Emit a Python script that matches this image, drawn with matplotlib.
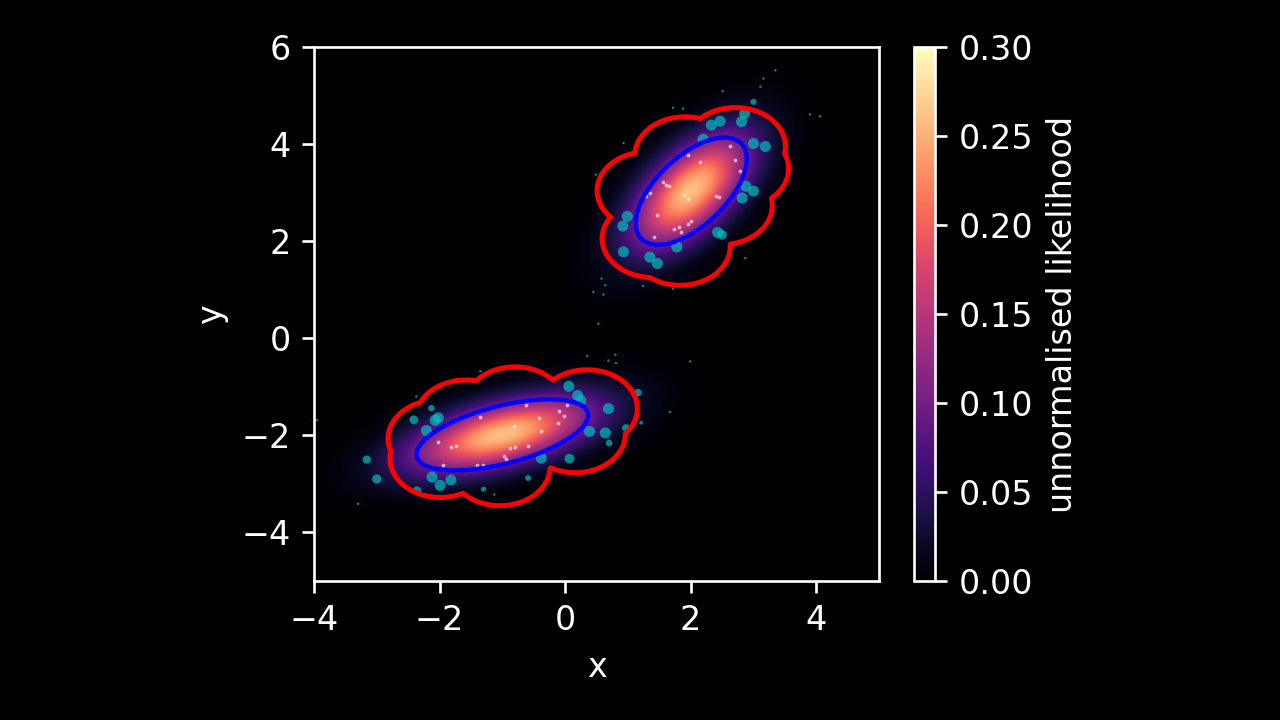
import numpy as np
import matplotlib
matplotlib.use("Agg")
import matplotlib.pyplot as plt

# two gaussian blobs: mean, std, correlation, peak height
mean_x = [-1.0, 2.01]
mean_y = [-1.99, 3.03]
std_x = [0.99, 0.64]
std_y = [0.53, 0.80]
corr = [0.55, 0.60]
peak = [0.26, 0.26]
blue_level = 0.1

# centres of the bumps of the red outline, and their radius
red_x = [2.71, 1.91, 1.31, 2.76, 2.50, 1.83, 1.39,
         -2.02, -1.58, -0.80, 0.35, 0.16, -1.04, -1.99]
red_y = [3.95, 3.76, 3.04, 3.49, 2.73, 1.89, 2.05,
         -2.07, -1.66, -1.39, -1.45, -1.97, -2.65, -2.48]
red_r = 0.8

# samples inside the blue ellipse
white_x = [1.95, 2.15, 2.63, 2.70, 2.78, 1.56, 1.60, 1.66, 1.35, 1.29, 1.89, 1.96,
           2.41, 2.45, 1.47, 2.01, 1.95, 1.74, 1.82, 1.84, 1.91, 1.42, 1.59, 1.80,
           -0.63, -0.10, 0.03, -0.02, -0.11, -1.35, -0.42, -0.38, -0.82, -2.02,
           -1.82, -1.74, -0.88, -0.79, -0.59, -0.97, -0.94, -1.94, -1.41, -1.30]
white_y = [3.77, 3.63, 3.95, 3.68, 3.44, 3.21, 3.15, 3.13, 2.99, 2.92, 2.96, 2.86,
           2.93, 2.90, 2.53, 2.42, 2.36, 2.26, 2.29, 2.19, 2.10, 2.09, 1.97, 2.00,
           -1.37, -1.49, -1.37, -1.60, -1.74, -1.62, -1.65, -1.92, -1.81, -2.13,
           -2.24, -2.21, -2.26, -2.24, -2.23, -2.42, -2.48, -2.62, -2.61, -2.62]

# samples outside the blue ellipse
cyan_x = [2.33, 2.47, 2.81, 3.00, 3.19, 2.20, 2.88, 3.00, 2.82, 0.99, 0.92, 0.93,
          1.35, 1.47, 2.43, 2.50, 1.78, 2.86, 3.00, 2.51, 1.88, 1.72, 0.93, 0.49,
          0.58, 0.64, 0.45, 1.24, 1.72, 2.87, 3.11, 3.16, 3.35, 4.06, 3.90, 0.53,
          0.80, 1.99, 1.67, 0.61,
          0.06, 0.20, 0.25, 0.69, 0.39, 0.64, 0.70, 0.97, 0.07, -0.38, -1.82, -1.99,
          -2.12, -2.41, -2.07, -2.02, -2.21, 1.16, 1.21, -0.59, -1.30, -1.13, -2.36,
          -2.13, -3.00, -1.35, 0.69, 0.81, 0.35, -3.16, -3.30, -3.95, -2.37]
cyan_y = [4.39, 4.47, 4.46, 4.01, 3.95, 4.10, 3.13, 3.03, 2.89, 2.51, 2.31, 1.78,
          1.67, 1.54, 2.18, 2.13, 1.88, 4.63, 4.87, 5.09, 4.73, 4.75, 4.02, 3.37,
          1.23, 1.09, 0.95, 1.08, 1.02, 1.65, 5.18, 5.35, 5.52, 4.57, 4.61, 0.30,
          -0.34, -0.48, -1.52, 0.90,
          -0.99, -1.18, -1.28, -1.45, -1.92, -1.95, -2.16, -1.85, -2.48, -2.47, -2.92, -3.03,
          -2.86, -1.68, -1.69, -1.64, -1.90, -1.12, -1.74, -2.88, -3.11, -3.22, -3.14,
          -1.44, -2.90, -0.68, -0.46, -0.51, -0.37, -2.50, -3.41, -1.69, -1.20]


def density(x, y):
    total = np.zeros_like(np.asarray(x, dtype=float))
    for i in range(len(mean_x)):
        zx = (x - mean_x[i]) / std_x[i]
        zy = (y - mean_y[i]) / std_y[i]
        r = corr[i]
        d2 = (zx**2 + zy**2 - 2*r*zx*zy) / (1 - r**2)
        total = total + peak[i] * np.exp(-0.5 * d2)
    return total


gx = np.linspace(-4, 5, 600)
gy = np.linspace(-5, 6, 600)
X, Y = np.meshgrid(gx, gy)
Z = density(X, Y)

dmin = np.full(X.shape, np.inf)
for cx, cy in zip(red_x, red_y):
    dmin = np.minimum(dmin, np.hypot(X - cx, Y - cy))

plt.style.use("dark_background")
plt.rcParams["font.size"] = 10
fig = plt.figure(figsize=(1280/240, 720/240), dpi=240)
ax = fig.add_axes([0.2453, 0.1931, 0.4414, 0.7417])
cax = fig.add_axes([0.7141, 0.1931, 0.0164, 0.7417])

im = ax.imshow(Z, origin="lower", extent=[-4, 5, -5, 6], cmap="magma",
               vmin=0, vmax=0.3, aspect="auto")
ax.contour(X, Y, Z, levels=[blue_level], colors="blue", linewidths=1.3)
ax.contour(X, Y, dmin, levels=[red_r], colors="red", linewidths=1.5)

cd = density(np.array(cyan_x), np.array(cyan_y))
sizes = 11 * np.clip((cd - 0.012) / 0.02, 0.05, 1)
ax.scatter(cyan_x, cyan_y, s=sizes, c="c", alpha=0.7, linewidths=0)
ax.scatter(white_x, white_y, s=1.3, c="w", alpha=0.6, linewidths=0)

ax.set_xlim(-4, 5)
ax.set_ylim(-5, 6)
ax.set_xlabel("x")
ax.set_ylabel("y")

cb = fig.colorbar(im, cax=cax)
cb.set_label("unnormalised likelihood")

fig.savefig("out.png", dpi=240, facecolor="black")
